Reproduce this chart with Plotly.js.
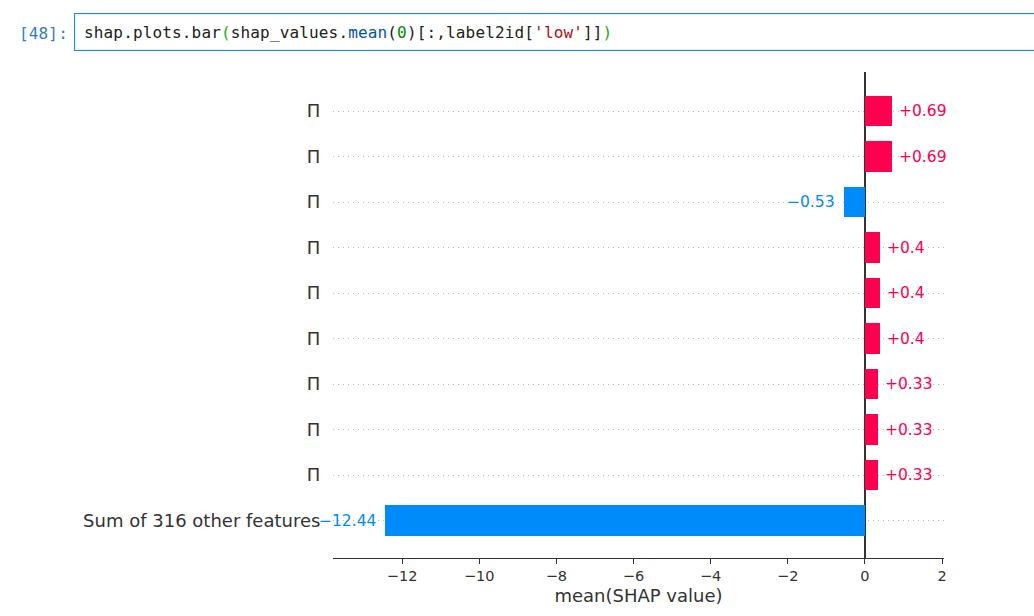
<!DOCTYPE html>
<html>
<head>
<meta charset="utf-8">
<script src="https://cdn.plot.ly/plotly-3.0.1.min.js"></script>
<style>
  html, body { margin: 0; padding: 0; background: #fff; }
  #wrap { position: relative; width: 1034px; height: 616px; overflow: hidden; }
  #chart { position: absolute; left: 0; top: 0; width: 1034px; height: 616px; }
  #prompt { position: absolute; left: 19px; top: 23px; font: 16px "DejaVu Sans Mono", monospace; color: #307fc1; line-height: 22px; letter-spacing: 0.15px; }
  #cell { position: absolute; left: 74px; top: 13px; width: 980px; height: 36px; border: 1px solid #1e88e5; box-shadow: inset 0 0 2px rgba(30,136,229,0.35); background: #fff; }
  #code { position: absolute; left: 9px; top: 8px; font: 16px "DejaVu Sans Mono", monospace; color: #212121; line-height: 22px; white-space: pre; letter-spacing: 0.15px; }
  .br { color: #22a822; } .pr { color: #0055aa; } .nm { color: #008800; } .st { color: #aa1111; }
</style>
</head>
<body>
<div id="wrap">
  <div id="chart"></div>
  <div id="prompt">[48]:</div>
  <div id="cell"><div id="code">shap.plots.bar<span class="br">(</span>shap_values.<span class="pr">mean</span>(<span class="nm">0</span>)[:,label2id[<span class="st">'low'</span>]]<span class="br">)</span></div></div>
</div>
<script>
// ---- data ----
const featureLabels = ["Π", "Π", "Π", "Π", "Π", "Π", "Π", "Π", "Π", "Sum of 316 other features"];
const shapValues = [0.69, 0.69, -0.53, 0.4, 0.4, 0.4, 0.33, 0.33, 0.33, -12.44];
const xTickVals = [-12, -10, -8, -6, -4, -2, 0, 2];
const xTitle = "mean(SHAP value)";

const RED = "#ff0051", BLUE = "#008bfb";
const rows = featureLabels.map((_, i) => i);
const colors = shapValues.map(v => v >= 0 ? RED : BLUE);

function fmt(v) {
  const s = String(Math.abs(v));
  return (v >= 0 ? "+" : "\u2212") + s;
}

const annotations = shapValues.map((v, i) => ({
  x: v, y: i, xref: "x", yref: "y",
  text: fmt(v), showarrow: false,
  xanchor: v >= 0 ? "left" : "right",
  yanchor: "middle",
  xshift: v >= 0 ? 5 : -7,
  font: { family: "DejaVu Sans", size: 15.5, color: colors[i] }
}));

const trace = {
  type: "bar", orientation: "h",
  x: shapValues, y: rows,
  width: 0.67,
  marker: { color: colors, line: { width: 0 } },
  hoverinfo: "skip"
};

const layout = {
  width: 1034, height: 616,
  margin: { l: 333, r: 90, t: 72, b: 58 },
  paper_bgcolor: "#fff", plot_bgcolor: "#fff",
  showlegend: false,
  font: { family: "DejaVu Sans", color: "#333" },
  xaxis: {
    range: [-13.79, 2.05],
    tickvals: xTickVals,
    ticks: "outside", ticklen: 5, tickcolor: "#333", tickwidth: 1,
    showline: true, linecolor: "#333", linewidth: 1,
    showgrid: false,
    zeroline: true, zerolinecolor: "#333", zerolinewidth: 1.3,
    tickfont: { family: "DejaVu Sans", size: 14.5, color: "#333" },
    title: { text: xTitle, font: { family: "DejaVu Sans", size: 18, color: "#333" }, standoff: 5 },
    automargin: false, fixedrange: true
  },
  yaxis: {
    range: [9.82, -0.86],
    tickvals: rows, ticktext: featureLabels,
    ticks: "outside", ticklen: 8, tickcolor: "rgba(0,0,0,0)",
    showline: false, zeroline: false,
    showgrid: true, gridcolor: "#bbbbbb", gridwidth: 1, griddash: "1px,4px",
    tickfont: { family: "DejaVu Sans", size: 18, color: "#333" },
    automargin: false, fixedrange: true
  },
  annotations: annotations,
  bargap: 0
};

Plotly.newPlot("chart", [trace], layout, { displayModeBar: false, staticPlot: true });
</script>
</body>
</html>
